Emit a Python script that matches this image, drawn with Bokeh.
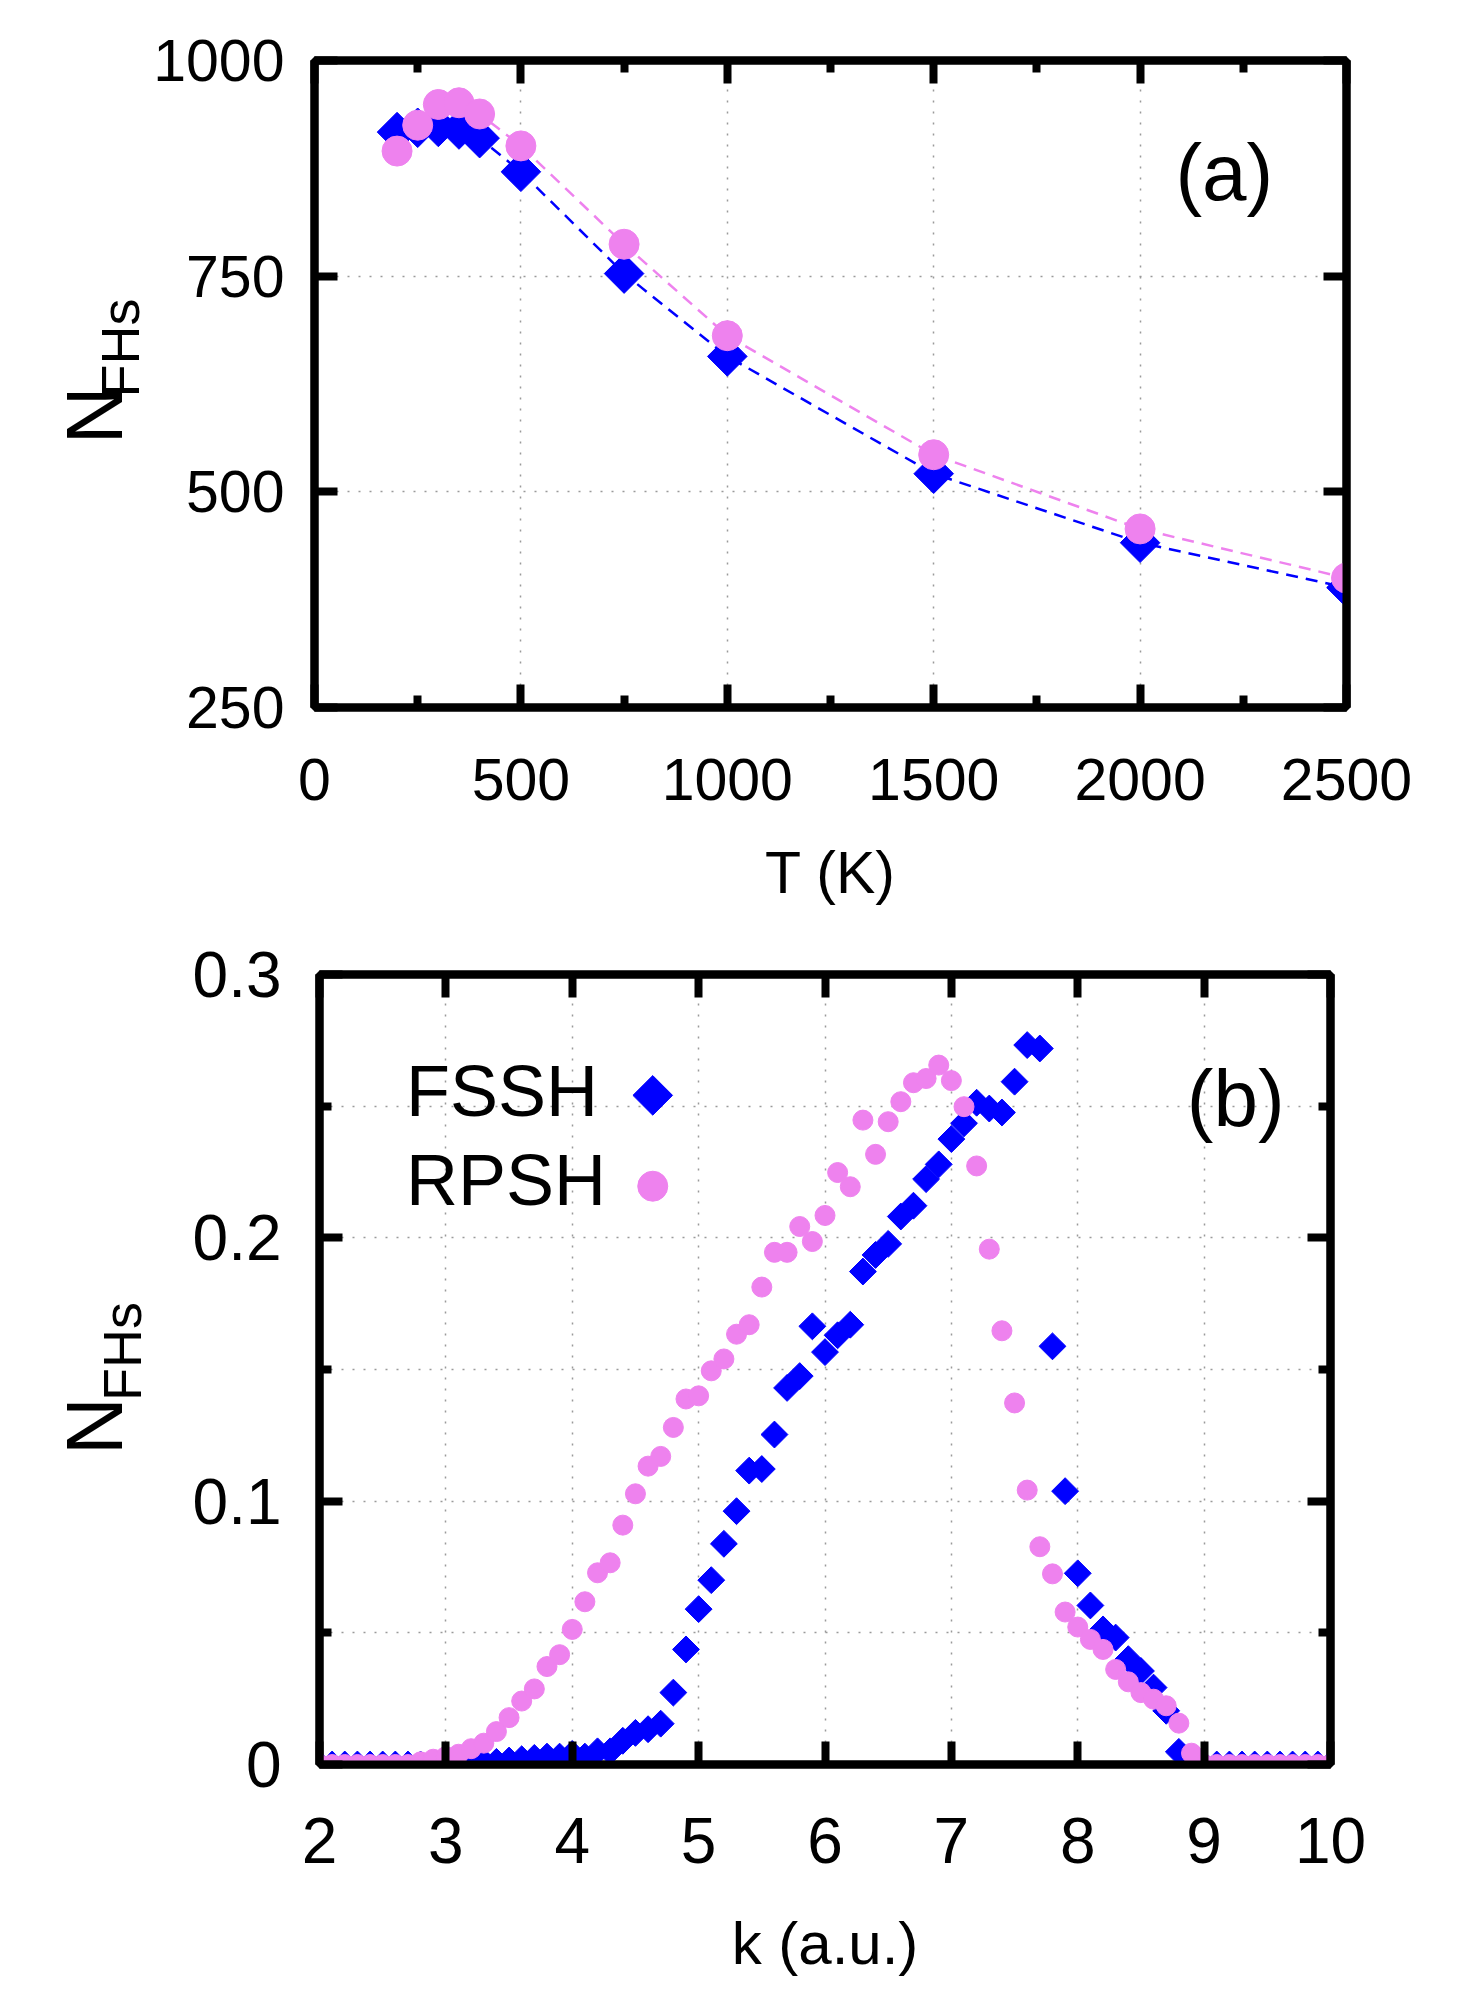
import math
from bokeh.plotting import figure
from bokeh.models import Range1d, LinearAxis, FixedTicker, Label, CustomJSTickFormatter
from bokeh.layouts import column, row
from bokeh.core.properties import value
from bokeh.embed import file_html
from bokeh.resources import INLINE

# ---------------- data: panel (a) ----------------
T = [200, 250, 300, 350, 400, 500, 750, 1000, 1500, 2000, 2500]
fssh_T = [917, 922, 923, 920, 910, 871, 753, 657, 521, 441, 389]
rpsh_T = [895, 925, 949, 951, 938, 901, 787, 681, 543, 457, 400]
T_ticks = [0, 500, 1000, 1500, 2000, 2500]
T_minor = [250, 750, 1250, 1750, 2250]
NT_ticks = [250, 500, 750, 1000]

# ---------------- data: panel (b) ----------------
k = [2.0, 2.1, 2.2, 2.3, 2.4, 2.5, 2.6, 2.7, 2.8, 2.9,
     3.0, 3.1, 3.2, 3.3, 3.4, 3.5, 3.6, 3.7, 3.8, 3.9,
     4.0, 4.1, 4.2, 4.3, 4.4, 4.5, 4.6, 4.7, 4.8, 4.9,
     5.0, 5.1, 5.2, 5.3, 5.4, 5.5, 5.6, 5.7, 5.8, 5.9,
     6.0, 6.1, 6.2, 6.3, 6.4, 6.5, 6.6, 6.7, 6.8, 6.9,
     7.0, 7.1, 7.2, 7.3, 7.4, 7.5, 7.6, 7.7, 7.8, 7.9,
     8.0, 8.1, 8.2, 8.3, 8.4, 8.5, 8.6, 8.7, 8.8, 8.9,
     9.0, 9.1, 9.2, 9.3, 9.4, 9.5, 9.6, 9.7, 9.8, 9.9, 10.0]
fssh_k = [0, 0, 0, 0, 0, 0, 0, 0, 0, 0,
          0.0005, 0.0005, 0.001, 0.001, 0.001, 0.0015, 0.002, 0.0025, 0.003, 0.003,
          0.004, 0.003, 0.005, 0.005, 0.009, 0.012, 0.0134, 0.0155, 0.0273, 0.0437,
          0.059, 0.070, 0.0838, 0.0962, 0.1116, 0.1122, 0.1253, 0.143, 0.1475, 0.1664,
          0.1566, 0.163, 0.167, 0.1872, 0.1935, 0.1977, 0.2081, 0.2122, 0.2223, 0.2279,
          0.2375, 0.2435, 0.2513, 0.2491, 0.2476, 0.2593, 0.2732, 0.2719, 0.1588, 0.1038,
          0.0726, 0.0604, 0.0513, 0.0482, 0.040, 0.0355, 0.0292, 0.0204, 0.0048, 0,
          0, 0, 0, 0, 0, 0, 0, 0, 0, 0, 0]
rpsh_k = [0, 0, 0, 0, 0, 0, 0, 0, 0.001, 0.002,
          0.003, 0.0039, 0.006, 0.0081, 0.0125, 0.0178, 0.0241, 0.0287, 0.0372, 0.0417,
          0.0513, 0.0618, 0.0728, 0.0766, 0.0909, 0.1028, 0.1133, 0.117, 0.128, 0.1388,
          0.140, 0.1495, 0.154, 0.1634, 0.167, 0.1813, 0.1945, 0.1945, 0.2043, 0.1986,
          0.2085, 0.2248, 0.2194, 0.2447, 0.2317, 0.2441, 0.2517, 0.2589, 0.2605, 0.2656,
          0.2597, 0.2498, 0.2273, 0.1957, 0.1647, 0.1373, 0.1042, 0.0827, 0.0724, 0.0579,
          0.0522, 0.0475, 0.0437, 0.0361, 0.0314, 0.0273, 0.0248, 0.0223, 0.0157, 0.0043,
          0, 0, 0, 0, 0, 0, 0, 0, 0, 0, 0]
k_ticks = [2, 3, 4, 5, 6, 7, 8, 9, 10]
Nk_ticks = [0, 0.1, 0.2, 0.3]
Nk_minor = [0.05, 0.15, 0.25]

series_names = ["FSSH", "RPSH"]
ylabel_main = "N"
ylabel_sub = "FHs"

BLUE = "#0000ff"
PINK = "#ee82ee"
FONT = "Liberation Sans"
GRID = "#9a9a9a"
STRIP_W1 = 150
STRIP_W2 = 170


def frame_axis(ax, font_size, standoff):
    ax.axis_line_width = 8
    ax.axis_line_color = "black"
    ax.major_tick_in = 23
    ax.major_tick_out = 0
    ax.minor_tick_in = 12
    ax.minor_tick_out = 0
    ax.major_tick_line_width = 8
    ax.minor_tick_line_width = 8
    ax.major_tick_line_color = "black"
    ax.minor_tick_line_color = "black"
    ax.major_label_text_font = FONT
    ax.major_label_text_font_size = font_size
    ax.major_label_text_color = "black"
    ax.major_label_standoff = standoff
    ax.axis_label_text_font = FONT
    ax.axis_label_text_font_style = "normal"
    ax.axis_label_text_color = "black"


def mirror_axes(p, xticker, yticker):
    top = LinearAxis(ticker=xticker, formatter=CustomJSTickFormatter(code="return ''"))
    right = LinearAxis(ticker=yticker, formatter=CustomJSTickFormatter(code="return ''"))
    for ax in (top, right):
        frame_axis(ax, "1px", 0)
    p.add_layout(top, "above")
    p.add_layout(right, "right")


def style_grid(p):
    for g in (p.xgrid[0], p.ygrid[0]):
        g.grid_line_color = GRID
        g.grid_line_dash = "2 9"
        g.grid_line_width = 1.5
    p.outline_line_color = "black"
    p.outline_line_width = 8
    p.background_fill_color = "white"
    p.border_fill_color = "white"


def label_strip(width, height, n_xy, sub_xy):
    """Plain strip left of a panel carrying the rotated y-axis title."""
    s = figure(width=width, height=height, x_range=Range1d(0, width),
               y_range=Range1d(0, height),
               min_border=0, x_axis_location=None, y_axis_location=None,
               output_backend="svg", toolbar_location=None)
    s.outline_line_color = None
    s.grid.visible = False
    s.text(x=[n_xy[0]], y=[n_xy[1]], text=[ylabel_main], angle=math.pi / 2,
           text_font=value(FONT), text_font_size=value("80px"), text_color="black",
           text_align="center", text_baseline="middle")
    s.text(x=[sub_xy[0]], y=[sub_xy[1]], text=[ylabel_sub], angle=math.pi / 2,
           text_font=value(FONT), text_font_size=value("54px"), text_color="black",
           text_align="center", text_baseline="middle")
    return s


# ---------------- panel (a) ----------------
p1 = figure(frame_width=1032, frame_height=647,
            x_range=Range1d(0, 2500), y_range=Range1d(250, 1000),
            min_border_left=320 - 8 - STRIP_W1, min_border_top=60, min_border_right=97,
            min_border_bottom=225,
            output_backend="svg", toolbar_location=None)
xt1 = FixedTicker(ticks=T_ticks, minor_ticks=T_minor)
yt1 = FixedTicker(ticks=NT_ticks, minor_ticks=[])
p1.xaxis[0].ticker = xt1
p1.yaxis[0].ticker = yt1
frame_axis(p1.xaxis[0], "59px", 51)
frame_axis(p1.yaxis[0], "59px", 30)
p1.xaxis[0].axis_label = "T (K)"
p1.xaxis[0].axis_label_text_font_size = "59px"
p1.xaxis[0].axis_label_standoff = 37
mirror_axes(p1, xt1, yt1)
style_grid(p1)

p1.line(T, fssh_T, line_color=BLUE, line_width=2.5, line_dash="12 8")
p1.line(T, rpsh_T, line_color=PINK, line_width=2.5, line_dash="12 8")
p1.scatter(T, fssh_T, marker="square", angle=math.pi / 4, size=28,
           fill_color=BLUE, line_color=BLUE)
p1.scatter(T, rpsh_T, marker="circle", size=30, fill_color=PINK, line_color=PINK)

p1.add_layout(Label(x=2204, y=870, text="(a)", text_font=FONT, text_font_size="80px",
                    text_align="center", text_baseline="middle", text_color="black"))

lab1 = label_strip(STRIP_W1, 932, (93.6, 421), (119, 518))

# ---------------- panel (b) ----------------
p2 = figure(frame_width=1011, frame_height=790,
            x_range=Range1d(2, 10), y_range=Range1d(0, 0.3),
            min_border_left=327 - 8 - STRIP_W2, min_border_top=42, min_border_right=111,
            min_border_bottom=213,
            output_backend="svg", toolbar_location=None)
xt2 = FixedTicker(ticks=k_ticks, minor_ticks=[])
yt2 = FixedTicker(ticks=Nk_ticks, minor_ticks=Nk_minor)
p2.xaxis[0].ticker = xt2
p2.yaxis[0].ticker = yt2
p2.yaxis[0].formatter = CustomJSTickFormatter(code="return tick == 0 ? '0' : tick.toFixed(1)")
frame_axis(p2.xaxis[0], "64px", 53)
frame_axis(p2.yaxis[0], "64px", 38)
p2.xaxis[0].axis_label = "k (a.u.)"
p2.xaxis[0].axis_label_text_font_size = "60px"
p2.xaxis[0].axis_label_standoff = 44
mirror_axes(p2, xt2, yt2)
style_grid(p2)
p2.ygrid[0].minor_grid_line_color = GRID
p2.ygrid[0].minor_grid_line_dash = "2 9"
p2.ygrid[0].minor_grid_line_width = 1.5

p2.scatter(k, fssh_k, marker="square", angle=math.pi / 4, size=19,
           fill_color=BLUE, line_color=BLUE)
p2.scatter(k, rpsh_k, marker="circle", size=20, fill_color=PINK, line_color=PINK)

# legend (text left of marker, gnuplot style)
leg_text_x = 2.685
leg_text_y = [0.2556, 0.2218]
leg_mark_x = [4.637]
leg_mark_y = [0.2541, 0.2196]
for name, ty in zip(series_names, leg_text_y):
    p2.add_layout(Label(x=leg_text_x, y=ty, text=name, text_font=FONT,
                        text_font_size="72px", text_align="left",
                        text_baseline="middle", text_color="black"))
p2.scatter(leg_mark_x, leg_mark_y[:1], marker="square", angle=math.pi / 4, size=28,
           fill_color=BLUE, line_color=BLUE)
p2.scatter(leg_mark_x, leg_mark_y[1:], marker="circle", size=30,
           fill_color=PINK, line_color=PINK)

p2.add_layout(Label(x=9.25, y=0.2529, text="(b)", text_font=FONT, text_font_size="80px",
                    text_align="center", text_baseline="middle", text_color="black"))

lab2 = label_strip(STRIP_W2, 1045, (93.6, 446), (121, 545))

layout = column(row(lab1, p1), row(lab2, p2))
open("out.html", "w").write(file_html(layout, INLINE))
